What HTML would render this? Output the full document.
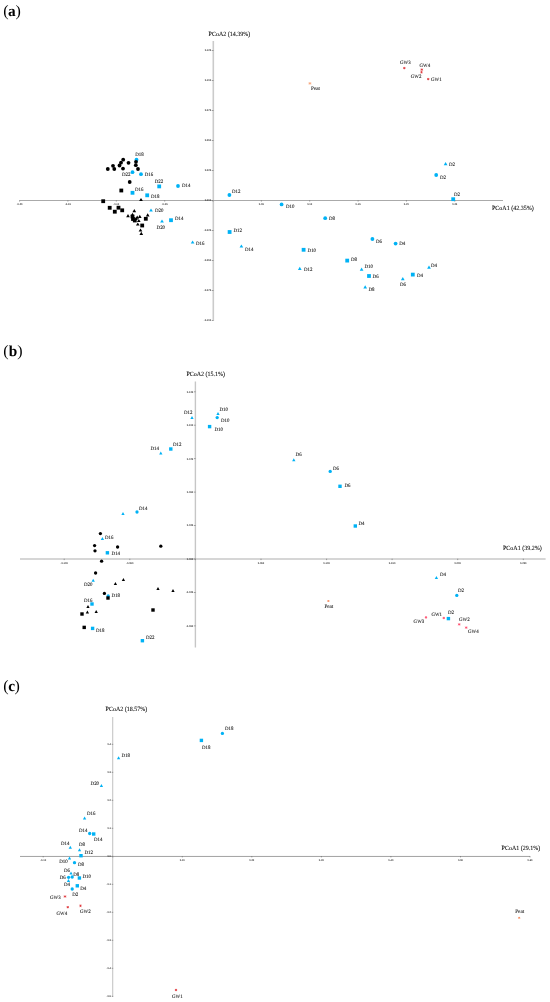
<!DOCTYPE html>
<html lang="en"><head><meta charset="utf-8"><title>PCoA plots</title>
<style>
html,body{margin:0;padding:0;background:#fff}
body{width:550px;height:1002px;overflow:hidden;font-family:"Liberation Serif",serif}
svg{display:block}
text{text-rendering:geometricPrecision}
.l{font-family:"Liberation Serif",serif;font-size:5.1px;fill:#161616;stroke:#161616;stroke-width:0.09px}
.ti{font-family:"Liberation Serif",serif;font-size:6.35px;fill:#0a0a0a;stroke:#0a0a0a;stroke-width:0.08px}
.t{font-family:"Liberation Sans",sans-serif;font-size:2.6px;font-weight:bold;fill:#333}
.pl{font-family:"Liberation Serif",serif;font-size:16px;fill:#000}
.pb{font-family:"Liberation Serif",serif;font-size:15.3px;font-weight:bold;fill:#000}
</style></head><body>
<svg width="550" height="1002" viewBox="0 0 550 1002">
<rect width="550" height="1002" fill="#fff"/>
<g id="pa">
<line x1="19.6" y1="200.5" x2="503" y2="200.5" stroke="#a0a0a0" stroke-width="0.9"/>
<line x1="213.3" y1="41" x2="213.3" y2="320.8" stroke="#cbcbcb" stroke-width="1.6"/>
<line x1="19.6" y1="200.20" x2="19.6" y2="201.60" stroke="#6a6a6a" stroke-width="0.6"/>
<text class="t" text-anchor="middle" x="19.6" y="205.05">-0.20</text>
<line x1="67.9" y1="200.20" x2="67.9" y2="201.60" stroke="#6a6a6a" stroke-width="0.6"/>
<text class="t" text-anchor="middle" x="67.9" y="205.05">-0.15</text>
<line x1="116.3" y1="200.20" x2="116.3" y2="201.60" stroke="#6a6a6a" stroke-width="0.6"/>
<text class="t" text-anchor="middle" x="116.3" y="205.05">-0.10</text>
<line x1="164.7" y1="200.20" x2="164.7" y2="201.60" stroke="#6a6a6a" stroke-width="0.6"/>
<text class="t" text-anchor="middle" x="164.7" y="205.05">-0.05</text>
<line x1="213.0" y1="200.20" x2="213.0" y2="201.60" stroke="#6a6a6a" stroke-width="0.6"/>
<line x1="261.4" y1="200.20" x2="261.4" y2="201.60" stroke="#6a6a6a" stroke-width="0.6"/>
<text class="t" text-anchor="middle" x="261.4" y="205.05">0.05</text>
<line x1="309.7" y1="200.20" x2="309.7" y2="201.60" stroke="#6a6a6a" stroke-width="0.6"/>
<text class="t" text-anchor="middle" x="309.7" y="205.05">0.10</text>
<line x1="358.1" y1="200.20" x2="358.1" y2="201.60" stroke="#6a6a6a" stroke-width="0.6"/>
<text class="t" text-anchor="middle" x="358.1" y="205.05">0.15</text>
<line x1="406.4" y1="200.20" x2="406.4" y2="201.60" stroke="#6a6a6a" stroke-width="0.6"/>
<text class="t" text-anchor="middle" x="406.4" y="205.05">0.20</text>
<line x1="454.8" y1="200.20" x2="454.8" y2="201.60" stroke="#6a6a6a" stroke-width="0.6"/>
<text class="t" text-anchor="middle" x="454.8" y="205.05">0.25</text>
<line x1="211.80" y1="50.5" x2="213.50" y2="50.5" stroke="#6a6a6a" stroke-width="0.6"/>
<text class="t" text-anchor="end" x="211.20" y="51.45">0.125</text>
<line x1="211.80" y1="80.5" x2="213.50" y2="80.5" stroke="#6a6a6a" stroke-width="0.6"/>
<text class="t" text-anchor="end" x="211.20" y="81.45">0.100</text>
<line x1="211.80" y1="110.5" x2="213.50" y2="110.5" stroke="#6a6a6a" stroke-width="0.6"/>
<text class="t" text-anchor="end" x="211.20" y="111.45">0.075</text>
<line x1="211.80" y1="140.5" x2="213.50" y2="140.5" stroke="#6a6a6a" stroke-width="0.6"/>
<text class="t" text-anchor="end" x="211.20" y="141.45">0.050</text>
<line x1="211.80" y1="170.5" x2="213.50" y2="170.5" stroke="#6a6a6a" stroke-width="0.6"/>
<text class="t" text-anchor="end" x="211.20" y="171.45">0.025</text>
<line x1="211.80" y1="200.5" x2="213.50" y2="200.5" stroke="#6a6a6a" stroke-width="0.6"/>
<text class="t" text-anchor="end" x="211.20" y="201.45">0.000</text>
<line x1="211.80" y1="230.5" x2="213.50" y2="230.5" stroke="#6a6a6a" stroke-width="0.6"/>
<text class="t" text-anchor="end" x="211.20" y="231.45">-0.025</text>
<line x1="211.80" y1="260.5" x2="213.50" y2="260.5" stroke="#6a6a6a" stroke-width="0.6"/>
<text class="t" text-anchor="end" x="211.20" y="261.45">-0.050</text>
<line x1="211.80" y1="290.5" x2="213.50" y2="290.5" stroke="#6a6a6a" stroke-width="0.6"/>
<text class="t" text-anchor="end" x="211.20" y="291.45">-0.075</text>
<line x1="211.80" y1="320.5" x2="213.50" y2="320.5" stroke="#6a6a6a" stroke-width="0.6"/>
<text class="t" text-anchor="end" x="211.20" y="321.45">-0.100</text>
<circle cx="136.5" cy="159.7" r="1.9" fill="#00b2f5"/>
<circle cx="123.2" cy="159.7" r="1.9" fill="#000"/>
<circle cx="121" cy="162.7" r="1.9" fill="#000"/>
<circle cx="119.5" cy="165.5" r="1.9" fill="#000"/>
<circle cx="113" cy="165.8" r="1.9" fill="#000"/>
<circle cx="107.8" cy="169" r="1.9" fill="#000"/>
<circle cx="114.3" cy="169" r="1.9" fill="#000"/>
<circle cx="123" cy="168.6" r="1.9" fill="#000"/>
<circle cx="128.5" cy="162.8" r="1.9" fill="#000"/>
<circle cx="136" cy="161.8" r="1.9" fill="#000"/>
<circle cx="135.8" cy="165.2" r="1.9" fill="#000"/>
<circle cx="138" cy="169" r="1.9" fill="#000"/>
<circle cx="129.7" cy="182" r="1.9" fill="#000"/>
<rect x="119.40" y="188.60" width="3.8" height="3.8" fill="#000"/>
<rect x="101.30" y="199.30" width="3.8" height="3.8" fill="#000"/>
<rect x="107.80" y="205.90" width="3.8" height="3.8" fill="#000"/>
<rect x="112.90" y="209.80" width="3.8" height="3.8" fill="#000"/>
<rect x="116.60" y="205.80" width="3.8" height="3.8" fill="#000"/>
<rect x="120.30" y="208.40" width="3.8" height="3.8" fill="#000"/>
<rect x="130.60" y="214.60" width="3.8" height="3.8" fill="#000"/>
<rect x="131.10" y="217.10" width="3.8" height="3.8" fill="#000"/>
<rect x="132.90" y="218.60" width="3.8" height="3.8" fill="#000"/>
<rect x="143.90" y="216.90" width="3.8" height="3.8" fill="#000"/>
<rect x="140.30" y="223.60" width="3.8" height="3.8" fill="#000"/>
<polygon points="141.00,197.90 142.85,201.10 139.15,201.10" fill="#000"/>
<polygon points="134.30,209.10 136.15,212.30 132.45,212.30" fill="#000"/>
<polygon points="128.00,214.10 129.85,217.30 126.15,217.30" fill="#000"/>
<polygon points="139.80,214.70 141.65,217.90 137.95,217.90" fill="#000"/>
<polygon points="147.70,213.20 149.55,216.40 145.85,216.40" fill="#000"/>
<polygon points="137.20,215.60 139.05,218.80 135.35,218.80" fill="#000"/>
<polygon points="138.80,218.90 140.65,222.10 136.95,222.10" fill="#000"/>
<polygon points="137.80,222.40 139.65,225.60 135.95,225.60" fill="#000"/>
<polygon points="140.50,228.40 142.35,231.60 138.65,231.60" fill="#000"/>
<polygon points="141.30,231.70 143.15,234.90 139.45,234.90" fill="#000"/>
<polygon points="132.50,212.70 134.35,215.90 130.65,215.90" fill="#000"/>
<polygon points="136.00,216.90 137.85,220.10 134.15,220.10" fill="#000"/>
<text class="l" transform="translate(135.2,156.08) scale(0.96,1)">D18</text>
<circle cx="132.5" cy="172.2" r="1.9" fill="#00b2f5"/>
<text class="l" transform="translate(122,176.08) scale(0.96,1)">D22</text>
<circle cx="141" cy="174.2" r="1.9" fill="#00b2f5"/>
<text class="l" transform="translate(144.8,176.08) scale(0.96,1)">D16</text>
<rect x="157.30" y="184.50" width="3.8" height="3.8" fill="#00b2f5"/>
<text class="l" transform="translate(154.8,182.68) scale(0.96,1)">D22</text>
<circle cx="178" cy="186" r="1.9" fill="#00b2f5"/>
<text class="l" transform="translate(182,187.48) scale(0.96,1)">D14</text>
<rect x="130.60" y="190.90" width="3.8" height="3.8" fill="#00b2f5"/>
<text class="l" transform="translate(135,190.68) scale(0.96,1)">D16</text>
<rect x="145.30" y="193.40" width="3.8" height="3.8" fill="#00b2f5"/>
<text class="l" transform="translate(151,197.68) scale(0.96,1)">D18</text>
<polygon points="151.00,208.40 152.85,211.60 149.15,211.60" fill="#00b2f5"/>
<text class="l" transform="translate(155,212.08) scale(0.96,1)">D20</text>
<polygon points="162.00,219.40 163.85,222.60 160.15,222.60" fill="#00b2f5"/>
<text class="l" transform="translate(156.6,228.68) scale(0.96,1)">D20</text>
<rect x="169.10" y="218.30" width="3.8" height="3.8" fill="#00b2f5"/>
<text class="l" transform="translate(175,220.28) scale(0.96,1)">D14</text>
<circle cx="229.4" cy="195" r="1.9" fill="#00b2f5"/>
<text class="l" transform="translate(232,193.08) scale(0.96,1)">D12</text>
<circle cx="281.6" cy="204.4" r="1.9" fill="#00b2f5"/>
<text class="l" transform="translate(286,208.28) scale(0.96,1)">D10</text>
<rect x="227.70" y="230.10" width="3.8" height="3.8" fill="#00b2f5"/>
<text class="l" transform="translate(233.4,232.08) scale(0.96,1)">D12</text>
<polygon points="192.60,240.40 194.45,243.60 190.75,243.60" fill="#00b2f5"/>
<text class="l" transform="translate(196,245.28) scale(0.96,1)">D16</text>
<polygon points="241.40,244.40 243.25,247.60 239.55,247.60" fill="#00b2f5"/>
<text class="l" transform="translate(245,250.68) scale(0.96,1)">D14</text>
<polygon points="299.80,266.80 301.65,270.00 297.95,270.00" fill="#00b2f5"/>
<text class="l" transform="translate(304,270.68) scale(0.96,1)">D12</text>
<circle cx="325.2" cy="218.2" r="1.9" fill="#00b2f5"/>
<text class="l" transform="translate(329,220.08) scale(0.96,1)">D8</text>
<circle cx="372.4" cy="239" r="1.9" fill="#00b2f5"/>
<text class="l" transform="translate(376,243.28) scale(0.96,1)">D6</text>
<circle cx="395.6" cy="243.6" r="1.9" fill="#00b2f5"/>
<text class="l" transform="translate(399.2,245.08) scale(0.96,1)">D4</text>
<rect x="301.70" y="247.90" width="3.8" height="3.8" fill="#00b2f5"/>
<text class="l" transform="translate(307.6,251.68) scale(0.96,1)">D10</text>
<rect x="345.30" y="258.70" width="3.8" height="3.8" fill="#00b2f5"/>
<text class="l" transform="translate(351,260.68) scale(0.96,1)">D8</text>
<polygon points="361.60,267.60 363.45,270.80 359.75,270.80" fill="#00b2f5"/>
<text class="l" transform="translate(364.4,268.08) scale(0.96,1)">D10</text>
<rect x="367.10" y="274.10" width="3.8" height="3.8" fill="#00b2f5"/>
<text class="l" transform="translate(372.6,278.08) scale(0.96,1)">D6</text>
<polygon points="365.20,285.20 367.05,288.40 363.35,288.40" fill="#00b2f5"/>
<text class="l" transform="translate(368.4,291.28) scale(0.96,1)">D8</text>
<polygon points="402.80,277.00 404.65,280.20 400.95,280.20" fill="#00b2f5"/>
<text class="l" transform="translate(400,285.68) scale(0.96,1)">D6</text>
<polygon points="445.60,162.00 447.45,165.20 443.75,165.20" fill="#00b2f5"/>
<text class="l" transform="translate(449,165.88) scale(0.96,1)">D2</text>
<circle cx="436.2" cy="175" r="1.9" fill="#00b2f5"/>
<text class="l" transform="translate(440,179.08) scale(0.96,1)">D2</text>
<rect x="451.30" y="197.30" width="3.8" height="3.8" fill="#00b2f5"/>
<text class="l" transform="translate(454,195.68) scale(0.96,1)">D2</text>
<polygon points="429.00,265.60 430.85,268.80 427.15,268.80" fill="#00b2f5"/>
<text class="l" transform="translate(431,266.68) scale(0.96,1)">D4</text>
<rect x="410.90" y="272.70" width="3.8" height="3.8" fill="#00b2f5"/>
<text class="l" transform="translate(417,276.68) scale(0.96,1)">D4</text>
<path d="M403.10 68.1H405.50M404.3 66.90V69.30M403.44 67.24L405.16 68.96M403.44 68.96L405.16 67.24" stroke="#de3034" stroke-width="0.65" fill="none"/>
<text class="l" transform="translate(400,63.88) scale(0.96,1)">GW3</text>
<path d="M420.60 69.6H423.00M421.8 68.40V70.80M420.94 68.74L422.66 70.46M420.94 70.46L422.66 68.74" stroke="#de3034" stroke-width="0.65" fill="none"/>
<text class="l" transform="translate(419.5,66.98) scale(0.96,1)">GW4</text>
<path d="M420.30 72.2H422.70M421.5 71.00V73.40M420.64 71.34L422.36 73.06M420.64 73.06L422.36 71.34" stroke="#de3034" stroke-width="0.65" fill="none"/>
<text class="l" transform="translate(410.8,77.88) scale(0.96,1)">GW2</text>
<path d="M427.00 79.1H429.40M428.2 77.90V80.30M427.34 78.24L429.06 79.96M427.34 79.96L429.06 78.24" stroke="#de3034" stroke-width="0.65" fill="none"/>
<text class="l" transform="translate(431,81.08) scale(0.96,1)">GW1</text>
<path d="M308.55 83.4H311.25M309.9 82.05V84.75M308.93 82.43L310.87 84.37M308.93 84.37L310.87 82.43" stroke="#f8a274" stroke-width="0.65" fill="none"/>
<text class="l" style="font-size:5.4px" transform="translate(311,90.18) scale(0.96,1)">Peat</text>
<text class="ti" transform="translate(208.6,35.7) scale(0.945,1)">PCoA2 (14.39%)</text>
<text class="ti" transform="translate(492,209.7) scale(0.945,1)">PCoA1 (42.35%)</text>
</g>
<g id="pb">
<line x1="20" y1="559.0" x2="545.6" y2="559.0" stroke="#d6d6d6" stroke-width="1.8"/>
<line x1="195.4" y1="381.6" x2="195.4" y2="647.6" stroke="#c6c6c6" stroke-width="1.4"/>
<line x1="64.2" y1="558.70" x2="64.2" y2="560.10" stroke="#6a6a6a" stroke-width="0.6"/>
<text class="t" text-anchor="middle" x="64.2" y="563.55">-0.100</text>
<line x1="129.8" y1="558.70" x2="129.8" y2="560.10" stroke="#6a6a6a" stroke-width="0.6"/>
<text class="t" text-anchor="middle" x="129.8" y="563.55">-0.050</text>
<line x1="195.4" y1="558.70" x2="195.4" y2="560.10" stroke="#6a6a6a" stroke-width="0.6"/>
<line x1="261.0" y1="558.70" x2="261.0" y2="560.10" stroke="#6a6a6a" stroke-width="0.6"/>
<text class="t" text-anchor="middle" x="261.0" y="563.55">0.050</text>
<line x1="326.6" y1="558.70" x2="326.6" y2="560.10" stroke="#6a6a6a" stroke-width="0.6"/>
<text class="t" text-anchor="middle" x="326.6" y="563.55">0.100</text>
<line x1="392.1" y1="558.70" x2="392.1" y2="560.10" stroke="#6a6a6a" stroke-width="0.6"/>
<text class="t" text-anchor="middle" x="392.1" y="563.55">0.150</text>
<line x1="457.7" y1="558.70" x2="457.7" y2="560.10" stroke="#6a6a6a" stroke-width="0.6"/>
<text class="t" text-anchor="middle" x="457.7" y="563.55">0.200</text>
<line x1="523.3" y1="558.70" x2="523.3" y2="560.10" stroke="#6a6a6a" stroke-width="0.6"/>
<text class="t" text-anchor="middle" x="523.3" y="563.55">0.250</text>
<line x1="193.90" y1="391.8" x2="195.60" y2="391.8" stroke="#6a6a6a" stroke-width="0.6"/>
<text class="t" text-anchor="end" x="193.30" y="392.75">0.125</text>
<line x1="193.90" y1="425.2" x2="195.60" y2="425.2" stroke="#6a6a6a" stroke-width="0.6"/>
<text class="t" text-anchor="end" x="193.30" y="426.15">0.100</text>
<line x1="193.90" y1="458.6" x2="195.60" y2="458.6" stroke="#6a6a6a" stroke-width="0.6"/>
<text class="t" text-anchor="end" x="193.30" y="459.55">0.075</text>
<line x1="193.90" y1="492.1" x2="195.60" y2="492.1" stroke="#6a6a6a" stroke-width="0.6"/>
<text class="t" text-anchor="end" x="193.30" y="493.05">0.050</text>
<line x1="193.90" y1="525.5" x2="195.60" y2="525.5" stroke="#6a6a6a" stroke-width="0.6"/>
<text class="t" text-anchor="end" x="193.30" y="526.45">0.025</text>
<line x1="193.90" y1="559.0" x2="195.60" y2="559.0" stroke="#6a6a6a" stroke-width="0.6"/>
<text class="t" text-anchor="end" x="193.30" y="559.95">0.000</text>
<line x1="193.90" y1="592.5" x2="195.60" y2="592.5" stroke="#6a6a6a" stroke-width="0.6"/>
<text class="t" text-anchor="end" x="193.30" y="593.45">-0.025</text>
<line x1="193.90" y1="625.9" x2="195.60" y2="625.9" stroke="#6a6a6a" stroke-width="0.6"/>
<text class="t" text-anchor="end" x="193.30" y="626.85">-0.050</text>
<circle cx="100.4" cy="533.6" r="1.65" fill="#000"/>
<circle cx="94.6" cy="545.6" r="1.65" fill="#000"/>
<circle cx="95" cy="550.8" r="1.65" fill="#000"/>
<circle cx="117.6" cy="547" r="1.65" fill="#000"/>
<circle cx="160.8" cy="546.2" r="1.65" fill="#000"/>
<circle cx="101.6" cy="561.2" r="1.65" fill="#000"/>
<circle cx="95.6" cy="573" r="1.65" fill="#000"/>
<circle cx="104.4" cy="593.4" r="1.65" fill="#000"/>
<polygon points="123.40,577.90 125.05,580.90 121.75,580.90" fill="#000"/>
<polygon points="115.40,581.90 117.05,584.90 113.75,584.90" fill="#000"/>
<polygon points="158.00,587.10 159.65,590.10 156.35,590.10" fill="#000"/>
<polygon points="173.00,588.90 174.65,591.90 171.35,591.90" fill="#000"/>
<polygon points="88.00,605.10 89.65,608.10 86.35,608.10" fill="#000"/>
<polygon points="87.40,610.50 89.05,613.50 85.75,613.50" fill="#000"/>
<polygon points="96.20,609.90 97.85,612.90 94.55,612.90" fill="#000"/>
<circle cx="108.2" cy="596" r="1.65" fill="#00b2f5"/>
<rect x="106.30" y="596.30" width="3.4" height="3.4" fill="#000"/>
<rect x="80.30" y="612.30" width="3.4" height="3.4" fill="#000"/>
<rect x="151.30" y="608.30" width="3.4" height="3.4" fill="#000"/>
<rect x="82.50" y="625.70" width="3.4" height="3.4" fill="#000"/>
<polygon points="123.00,511.90 124.65,514.90 121.35,514.90" fill="#00b2f5"/>
<circle cx="137" cy="512" r="1.65" fill="#00b2f5"/>
<text class="l" transform="translate(139,509.68) scale(0.96,1)">D14</text>
<polygon points="102.40,536.90 104.05,539.90 100.75,539.90" fill="#00b2f5"/>
<text class="l" transform="translate(105,539.28) scale(0.96,1)">D16</text>
<rect x="105.70" y="551.10" width="3.4" height="3.4" fill="#00b2f5"/>
<text class="l" transform="translate(111.6,555.28) scale(0.96,1)">D14</text>
<polygon points="93.20,578.70 94.85,581.70 91.55,581.70" fill="#00b2f5"/>
<text class="l" transform="translate(84,586.08) scale(0.96,1)">D20</text>
<text class="l" transform="translate(111.6,596.68) scale(0.96,1)">D18</text>
<rect x="90.30" y="602.30" width="3.4" height="3.4" fill="#00b2f5"/>
<text class="l" transform="translate(84,601.88) scale(0.96,1)">D16</text>
<rect x="90.90" y="626.70" width="3.4" height="3.4" fill="#00b2f5"/>
<text class="l" transform="translate(96,631.68) scale(0.96,1)">D18</text>
<rect x="140.70" y="639.00" width="3.4" height="3.4" fill="#00b2f5"/>
<text class="l" transform="translate(146,639.38) scale(0.96,1)">D22</text>
<polygon points="192.00,416.10 193.65,419.10 190.35,419.10" fill="#00b2f5"/>
<text class="l" transform="translate(184,413.68) scale(0.96,1)">D12</text>
<polygon points="218.00,412.10 219.65,415.10 216.35,415.10" fill="#00b2f5"/>
<text class="l" transform="translate(219.4,411.28) scale(0.96,1)">D10</text>
<circle cx="217.2" cy="417.6" r="1.65" fill="#00b2f5"/>
<text class="l" transform="translate(221,422.08) scale(0.96,1)">D10</text>
<rect x="207.90" y="424.90" width="3.4" height="3.4" fill="#00b2f5"/>
<text class="l" transform="translate(214.4,430.68) scale(0.96,1)">D10</text>
<rect x="169.10" y="447.30" width="3.4" height="3.4" fill="#00b2f5"/>
<text class="l" transform="translate(173,445.68) scale(0.96,1)">D12</text>
<polygon points="160.80,451.50 162.45,454.50 159.15,454.50" fill="#00b2f5"/>
<text class="l" transform="translate(150.4,450.08) scale(0.96,1)">D14</text>
<polygon points="293.80,458.30 295.45,461.30 292.15,461.30" fill="#00b2f5"/>
<text class="l" transform="translate(295.6,456.28) scale(0.96,1)">D6</text>
<circle cx="330.2" cy="471.4" r="1.65" fill="#00b2f5"/>
<text class="l" transform="translate(333,469.68) scale(0.96,1)">D6</text>
<rect x="338.30" y="484.60" width="3.4" height="3.4" fill="#00b2f5"/>
<text class="l" transform="translate(344.4,486.68) scale(0.96,1)">D6</text>
<rect x="353.60" y="524.30" width="3.4" height="3.4" fill="#00b2f5"/>
<text class="l" transform="translate(358.4,524.68) scale(0.96,1)">D4</text>
<path d="M327.40 601H329.40M328.4 600.00V602.00M327.68 600.28L329.12 601.72M327.68 601.72L329.12 600.28" stroke="#f4885a" stroke-width="0.65" fill="none"/>
<text class="l" style="font-size:5.4px" transform="translate(324.4,608.08) scale(0.96,1)">Peat</text>
<polygon points="436.40,576.10 438.05,579.10 434.75,579.10" fill="#00b2f5"/>
<text class="l" transform="translate(440,576.28) scale(0.96,1)">D4</text>
<circle cx="456.8" cy="595.4" r="1.65" fill="#00b2f5"/>
<text class="l" transform="translate(458,592.28) scale(0.96,1)">D2</text>
<path d="M424.80 617.4H427.20M426 616.20V618.60M425.14 616.54L426.86 618.26M425.14 618.26L426.86 616.54" stroke="#ff4466" stroke-width="0.65" fill="none"/>
<text class="l" transform="translate(413.6,622.68) scale(0.96,1)">GW3</text>
<path d="M442.60 618H445.00M443.8 616.80V619.20M442.94 617.14L444.66 618.86M442.94 618.86L444.66 617.14" stroke="#ff4466" stroke-width="0.65" fill="none"/>
<text class="l" transform="translate(431.4,615.88) scale(0.96,1)">GW1</text>
<rect x="446.70" y="616.90" width="3.4" height="3.4" fill="#00b2f5"/>
<text class="l" transform="translate(448,614.28) scale(0.96,1)">D2</text>
<path d="M458.00 624.4H460.40M459.2 623.20V625.60M458.34 623.54L460.06 625.26M458.34 625.26L460.06 623.54" stroke="#ff4466" stroke-width="0.65" fill="none"/>
<text class="l" transform="translate(459,620.68) scale(0.96,1)">GW2</text>
<path d="M465.00 627.6H467.40M466.2 626.40V628.80M465.34 626.74L467.06 628.46M465.34 628.46L467.06 626.74" stroke="#ff4466" stroke-width="0.65" fill="none"/>
<text class="l" transform="translate(468,633.28) scale(0.96,1)">GW4</text>
<text class="ti" transform="translate(186.4,376.1) scale(0.945,1)">PCoA2 (15.1%)</text>
<text class="ti" transform="translate(503,550.1) scale(0.945,1)">PCoA1 (39.2%)</text>
</g>
<g id="pc">
<line x1="20" y1="856.45" x2="530" y2="856.45" stroke="#9c9c9c" stroke-width="0.95"/>
<line x1="112.7" y1="717" x2="112.7" y2="997" stroke="#c6c6c6" stroke-width="1.1"/>
<line x1="43.2" y1="856.00" x2="43.2" y2="857.40" stroke="#6a6a6a" stroke-width="0.6"/>
<text class="t" text-anchor="middle" x="43.2" y="860.85">-0.10</text>
<line x1="112.8" y1="856.00" x2="112.8" y2="857.40" stroke="#6a6a6a" stroke-width="0.6"/>
<line x1="182.3" y1="856.00" x2="182.3" y2="857.40" stroke="#6a6a6a" stroke-width="0.6"/>
<text class="t" text-anchor="middle" x="182.3" y="860.85">0.10</text>
<line x1="251.8" y1="856.00" x2="251.8" y2="857.40" stroke="#6a6a6a" stroke-width="0.6"/>
<text class="t" text-anchor="middle" x="251.8" y="860.85">0.20</text>
<line x1="321.4" y1="856.00" x2="321.4" y2="857.40" stroke="#6a6a6a" stroke-width="0.6"/>
<text class="t" text-anchor="middle" x="321.4" y="860.85">0.30</text>
<line x1="390.9" y1="856.00" x2="390.9" y2="857.40" stroke="#6a6a6a" stroke-width="0.6"/>
<text class="t" text-anchor="middle" x="390.9" y="860.85">0.40</text>
<line x1="460.5" y1="856.00" x2="460.5" y2="857.40" stroke="#6a6a6a" stroke-width="0.6"/>
<text class="t" text-anchor="middle" x="460.5" y="860.85">0.50</text>
<line x1="530.0" y1="856.00" x2="530.0" y2="857.40" stroke="#6a6a6a" stroke-width="0.6"/>
<text class="t" text-anchor="middle" x="530.0" y="860.85">0.60</text>
<line x1="111.70" y1="744.3" x2="113.20" y2="744.3" stroke="#6a6a6a" stroke-width="0.6"/>
<text class="t" text-anchor="end" x="111.00" y="745.25">0.4</text>
<line x1="111.70" y1="772.3" x2="113.20" y2="772.3" stroke="#6a6a6a" stroke-width="0.6"/>
<text class="t" text-anchor="end" x="111.00" y="773.25">0.3</text>
<line x1="111.70" y1="800.3" x2="113.20" y2="800.3" stroke="#6a6a6a" stroke-width="0.6"/>
<text class="t" text-anchor="end" x="111.00" y="801.25">0.2</text>
<line x1="111.70" y1="828.3" x2="113.20" y2="828.3" stroke="#6a6a6a" stroke-width="0.6"/>
<text class="t" text-anchor="end" x="111.00" y="829.25">0.1</text>
<line x1="111.70" y1="856.3" x2="113.20" y2="856.3" stroke="#6a6a6a" stroke-width="0.6"/>
<text class="t" text-anchor="end" x="111.00" y="857.25">0.0</text>
<line x1="111.70" y1="884.3" x2="113.20" y2="884.3" stroke="#6a6a6a" stroke-width="0.6"/>
<text class="t" text-anchor="end" x="111.00" y="885.25">-0.1</text>
<line x1="111.70" y1="912.3" x2="113.20" y2="912.3" stroke="#6a6a6a" stroke-width="0.6"/>
<text class="t" text-anchor="end" x="111.00" y="913.25">-0.2</text>
<line x1="111.70" y1="940.3" x2="113.20" y2="940.3" stroke="#6a6a6a" stroke-width="0.6"/>
<text class="t" text-anchor="end" x="111.00" y="941.25">-0.3</text>
<line x1="111.70" y1="968.3" x2="113.20" y2="968.3" stroke="#6a6a6a" stroke-width="0.6"/>
<text class="t" text-anchor="end" x="111.00" y="969.25">-0.4</text>
<line x1="111.70" y1="996.3" x2="113.20" y2="996.3" stroke="#6a6a6a" stroke-width="0.6"/>
<text class="t" text-anchor="end" x="111.00" y="997.25">-0.5</text>
<polygon points="118.60,756.30 120.25,759.30 116.95,759.30" fill="#00b2f5"/>
<text class="l" transform="translate(121.6,757.08) scale(0.96,1)">D18</text>
<circle cx="222.4" cy="733.4" r="1.65" fill="#00b2f5"/>
<text class="l" transform="translate(225,730.28) scale(0.96,1)">D18</text>
<rect x="199.70" y="738.70" width="3.4" height="3.4" fill="#00b2f5"/>
<text class="l" transform="translate(202,748.68) scale(0.96,1)">D18</text>
<polygon points="101.40,783.90 103.05,786.90 99.75,786.90" fill="#00b2f5"/>
<text class="l" transform="translate(90.6,785.08) scale(0.96,1)">D20</text>
<polygon points="84.60,816.50 86.25,819.50 82.95,819.50" fill="#00b2f5"/>
<text class="l" transform="translate(87,815.28) scale(0.96,1)">D16</text>
<circle cx="89.7" cy="833.5" r="1.65" fill="#00b2f5"/>
<text class="l" transform="translate(79,832.48) scale(0.96,1)">D14</text>
<rect x="92.00" y="832.30" width="3.4" height="3.4" fill="#00b2f5"/>
<text class="l" transform="translate(94,840.68) scale(0.96,1)">D14</text>
<polygon points="70.30,845.70 71.95,848.70 68.65,848.70" fill="#00b2f5"/>
<text class="l" transform="translate(61,845.18) scale(0.96,1)">D14</text>
<polygon points="79.50,848.20 81.15,851.20 77.85,851.20" fill="#00b2f5"/>
<text class="l" transform="translate(79,846.38) scale(0.96,1)">D8</text>
<rect x="79.30" y="854.00" width="3.4" height="3.4" fill="#00b2f5"/>
<text class="l" transform="translate(84.5,854.18) scale(0.96,1)">D12</text>
<polygon points="69.50,856.50 71.15,859.50 67.85,859.50" fill="#00b2f5"/>
<text class="l" transform="translate(59.3,862.68) scale(0.96,1)">D10</text>
<circle cx="74.5" cy="862.7" r="1.65" fill="#00b2f5"/>
<text class="l" transform="translate(78,865.68) scale(0.96,1)">D8</text>
<polygon points="71.00,871.50 72.65,874.50 69.35,874.50" fill="#00b2f5"/>
<text class="l" transform="translate(64,871.68) scale(0.96,1)">D6</text>
<circle cx="68.6" cy="877.3" r="1.65" fill="#00b2f5"/>
<text class="l" transform="translate(59.7,878.88) scale(0.96,1)">D6</text>
<circle cx="72.2" cy="877" r="1.65" fill="#00b2f5"/>
<text class="l" transform="translate(73.2,876.38) scale(0.96,1)">D8</text>
<rect x="77.70" y="876.30" width="3.4" height="3.4" fill="#00b2f5"/>
<text class="l" transform="translate(82.5,877.68) scale(0.96,1)">D10</text>
<polygon points="68.50,879.00 70.15,882.00 66.85,882.00" fill="#00b2f5"/>
<text class="l" transform="translate(64,886.48) scale(0.96,1)">D4</text>
<rect x="75.60" y="884.10" width="3.4" height="3.4" fill="#00b2f5"/>
<text class="l" transform="translate(80.2,889.88) scale(0.96,1)">D4</text>
<circle cx="72.2" cy="889" r="1.65" fill="#00b2f5"/>
<text class="l" transform="translate(72.2,895.68) scale(0.96,1)">D2</text>
<path d="M63.80 896.5H66.20M65 895.30V897.70M64.14 895.64L65.86 897.36M64.14 897.36L65.86 895.64" stroke="#de3034" stroke-width="0.65" fill="none"/>
<text class="l" transform="translate(50,899.48) scale(0.96,1)">GW3</text>
<path d="M66.60 907.2H69.00M67.8 906.00V908.40M66.94 906.34L68.66 908.06M66.94 908.06L68.66 906.34" stroke="#de3034" stroke-width="0.65" fill="none"/>
<text class="l" transform="translate(56.5,915.18) scale(0.96,1)">GW4</text>
<path d="M79.30 905.8H81.70M80.5 904.60V907.00M79.64 904.94L81.36 906.66M79.64 906.66L81.36 904.94" stroke="#de3034" stroke-width="0.65" fill="none"/>
<text class="l" transform="translate(80,912.88) scale(0.96,1)">GW2</text>
<path d="M174.80 990H177.20M176 988.80V991.20M175.14 989.14L176.86 990.86M175.14 990.86L176.86 989.14" stroke="#de3034" stroke-width="0.65" fill="none"/>
<text class="l" transform="translate(172,998.08) scale(0.96,1)">GW1</text>
<path d="M518.20 917.8H520.20M519.2 916.80V918.80M518.48 917.08L519.92 918.52M518.48 918.52L519.92 917.08" stroke="#f4885a" stroke-width="0.65" fill="none"/>
<text class="l" style="font-size:5.4px" transform="translate(515.2,912.68) scale(0.96,1)">Peat</text>
<text class="ti" transform="translate(105.6,711.1) scale(0.945,1)">PCoA2 (18.57%)</text>
<text class="ti" transform="translate(501.6,850.3) scale(0.945,1)">PCoA1 (29.1%)</text>
</g>
<text class="pl" x="3.2" y="16.1">(</text><text class="pb" x="8.0" y="16.4">a</text><text class="pl" x="15.5" y="16.1">)</text>
<text class="pl" x="3.2" y="356.2">(</text><text class="pb" x="8.8" y="356.2">b</text><text class="pl" x="17.3" y="356.2">)</text>
<text class="pl" x="3.2" y="691.3">(</text><text class="pb" x="8.3" y="691.3">c</text><text class="pl" x="14.6" y="691.3">)</text>
</svg>
</body></html>
